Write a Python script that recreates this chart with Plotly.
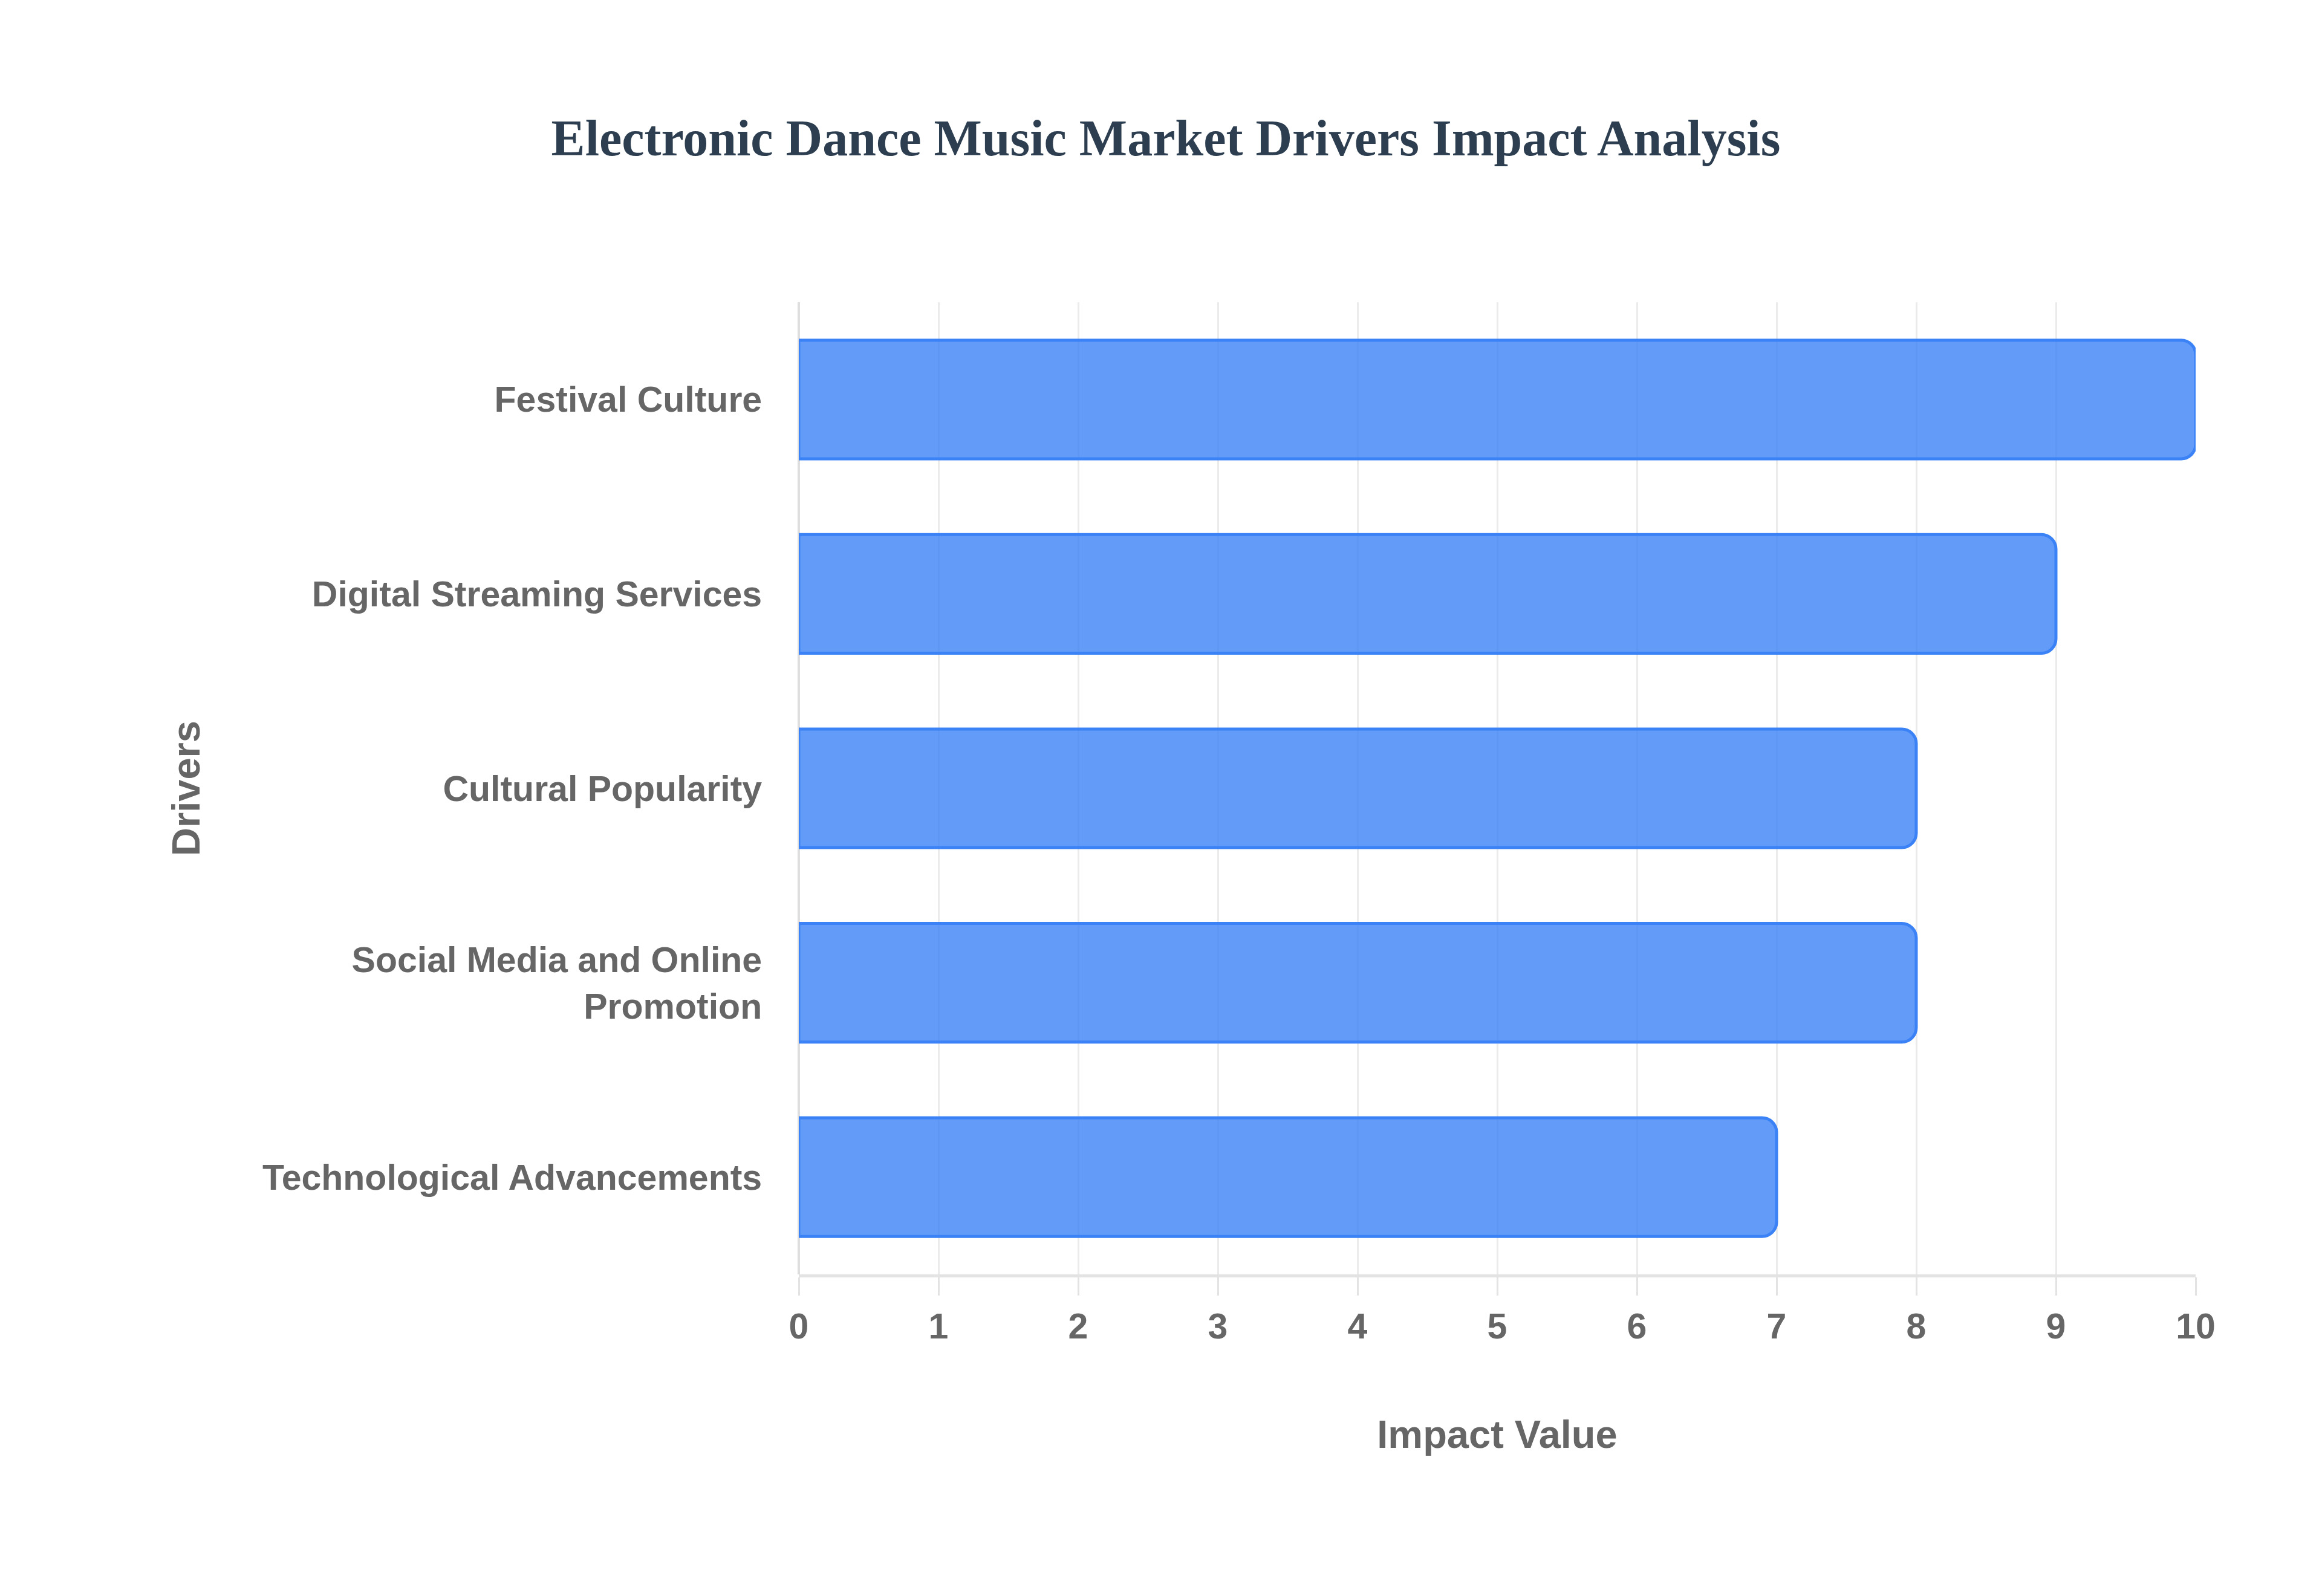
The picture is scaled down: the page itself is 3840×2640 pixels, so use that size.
import plotly.graph_objects as go

drivers = [
    "Technological Advancements",
    "Social Media and Online<br>Promotion",
    "Cultural Popularity",
    "Digital Streaming Services",
    "Festival Culture",
]
impact = [7, 8, 8, 9, 10]
x_ticks = list(range(0, 11))

W, H = 3840, 2640

fig = go.Figure(
    go.Bar(
        x=impact,
        y=drivers,
        orientation="h",
        marker=dict(
            color="rgba(59,130,246,0.8)",
            line=dict(color="rgba(59,130,246,1)", width=5),
            cornerradius=24,
        ),
        hoverinfo="x+y",
    )
)

fig.update_layout(
    width=W,
    height=H,
    paper_bgcolor="white",
    plot_bgcolor="white",
    bargap=0.39,
    margin=dict(l=1313, r=217, t=492, b=540, autoexpand=False),
    title=dict(
        text="<b>Electronic Dance Music Market Drivers Impact Analysis</b>",
        x=0.5,
        xanchor="center",
        y=1 - 220 / H,
        yanchor="middle",
        font=dict(family="Liberation Serif, Times New Roman, serif", size=84, color="#2c3e50"),
    ),
    font=dict(family="Liberation Sans, Arial, sans-serif", color="#666666"),
    showlegend=False,
)

fig.update_xaxes(
    range=[0, 10],
    tickvals=x_ticks,
    ticktext=[f"<b>{v}</b>" for v in x_ticks],
    tickfont=dict(size=59, color="#666666"),
    showgrid=True,
    gridcolor="#ebebeb",
    gridwidth=3,
    zeroline=True,
    zerolinecolor="#dedede",
    zerolinewidth=4,
    showline=True,
    linecolor="#e3e3e3",
    linewidth=5,
    ticks="outside",
    ticklen=30,
    tickwidth=3,
    tickcolor="#e3e3e3",
    title=dict(text="<b>Impact Value</b>", font=dict(size=65, color="#666666"), standoff=125),
)

fig.update_yaxes(
    tickvals=drivers,
    ticktext=[f"<b>{d}</b>" for d in drivers],
    tickfont=dict(size=59, color="#666666"),
    showgrid=False,
    zeroline=False,
    showline=False,
    ticks="outside",
    ticklen=48,
    tickcolor="rgba(0,0,0,0)",
    title=dict(text="<b>Drivers</b>", font=dict(size=65, color="#666666"), standoff=82),
)

fig.write_html("out.html")
